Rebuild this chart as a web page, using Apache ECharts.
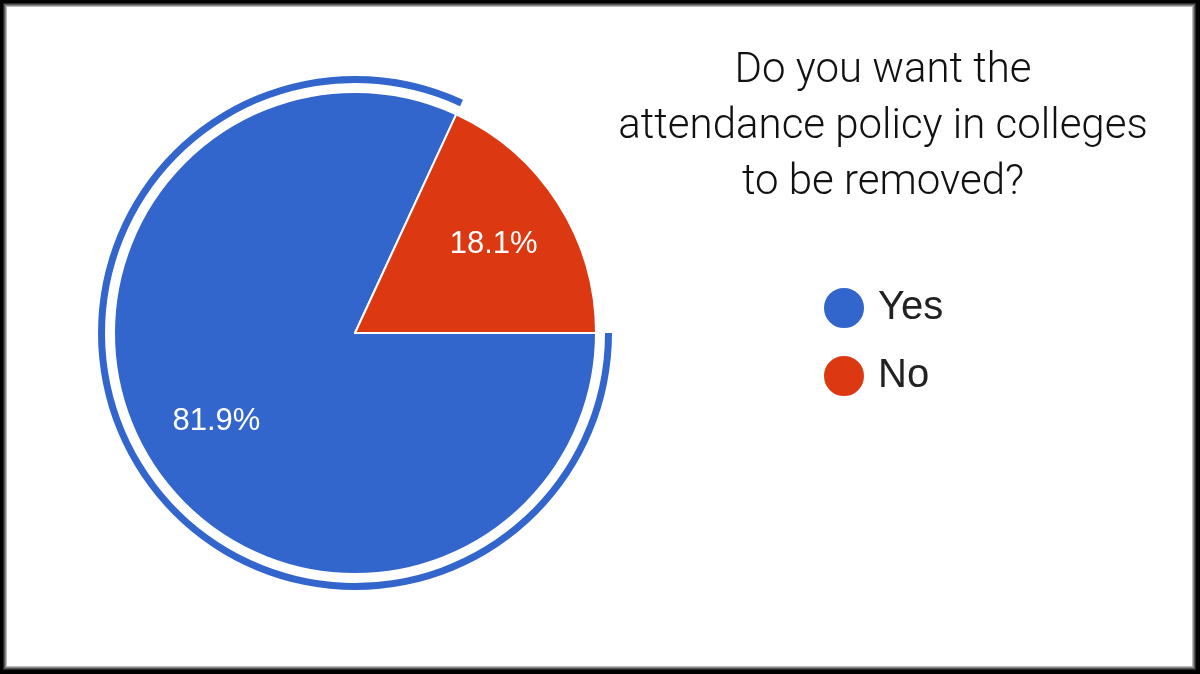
<!DOCTYPE html>
<html>
<head>
<meta charset="utf-8">
<script src="https://cdn.jsdelivr.net/npm/echarts@6/dist/echarts.min.js"></script>
<style>
html, body { margin: 0; padding: 0; background: #fff; }
#wrap { position: relative; width: 1200px; height: 674px; }
#chart { position: absolute; left: 0; top: 0; width: 1200px; height: 674px; }
#frame {
    position: absolute; left: 0; top: 0; right: 0; bottom: 0;
    pointer-events: none;
    border-style: solid;
    border-color: #000;
    border-width: 3px 4px 4px 3px;
    box-shadow: inset 0 0 0 1px #2a2a2a, inset 0 0 0 2px #555, inset 0 0 0 3px #888, inset 0 0 0 4px #bbb;
}
</style>
</head>
<body>
<div id="wrap">
    <div id="chart"></div>
    <div id="frame"></div>
</div>
<script>
// answers and their share (percent)
var answers = ['Yes', 'No'];
var shares = [81.9, 18.1];
var colors = ['#3366cc', '#dc3912'];
var titleText = 'Do you want the\nattendance policy in colleges\nto be removed?';

var pieData = answers.map(function (name, i) {
    return { name: name, value: shares[i], itemStyle: { color: colors[i] } };
});
// outer highlight ring only around the first slice
var ringData = answers.map(function (name, i) {
    return { name: name, value: shares[i], itemStyle: { color: i == 0 ? colors[0] : 'transparent' } };
});
var labelData = answers.map(function (name, i) {
    return { name: name, value: shares[i] };
});

var chart = echarts.init(document.getElementById('chart'));
chart.setOption({
    animation: false,
    title: {
        text: titleText,
        left: 878,
        top: 38,
        textAlign: 'center',
        textStyle: {
            fontFamily: 'Roboto',
            fontWeight: 300,
            fontSize: 42,
            lineHeight: 56,
            color: '#111'
        }
    },
    legend: {
        data: answers,
        orient: 'vertical',
        left: 817,
        top: 281,
        icon: 'circle',
        itemWidth: 42,
        itemHeight: 42,
        itemGap: 24,
        textStyle: {
            fontFamily: 'Liberation Sans, Arial, sans-serif',
            fontSize: 40,
            color: '#222',
            padding: [0, 0, 0, 8]
        }
    },
    series: [{
        type: 'pie',
        center: [355, 333],
        radius: [0, 241],
        startAngle: 0,
        clockwise: true,
        silent: true,
        label: { show: false },
        labelLine: { show: false },
        itemStyle: { borderColor: '#fff', borderWidth: 2 },
        data: pieData
    }, {
        type: 'pie',
        center: [355, 333],
        radius: [250, 257],
        startAngle: 0,
        clockwise: true,
        silent: true,
        label: { show: false },
        labelLine: { show: false },
        data: ringData
    }, {
        type: 'pie',
        center: [355, 333],
        radius: [82, 241],
        startAngle: 0,
        clockwise: true,
        silent: true,
        itemStyle: { color: 'transparent' },
        label: {
            show: true,
            position: 'inside',
            color: '#fff',
            fontFamily: 'Liberation Sans, Arial, sans-serif',
            fontSize: 31,
            formatter: function (p) {
                return p.value.toFixed(1) + '%';
            }
        },
        labelLine: { show: false },
        data: labelData
    }]
});
</script>
</body>
</html>
